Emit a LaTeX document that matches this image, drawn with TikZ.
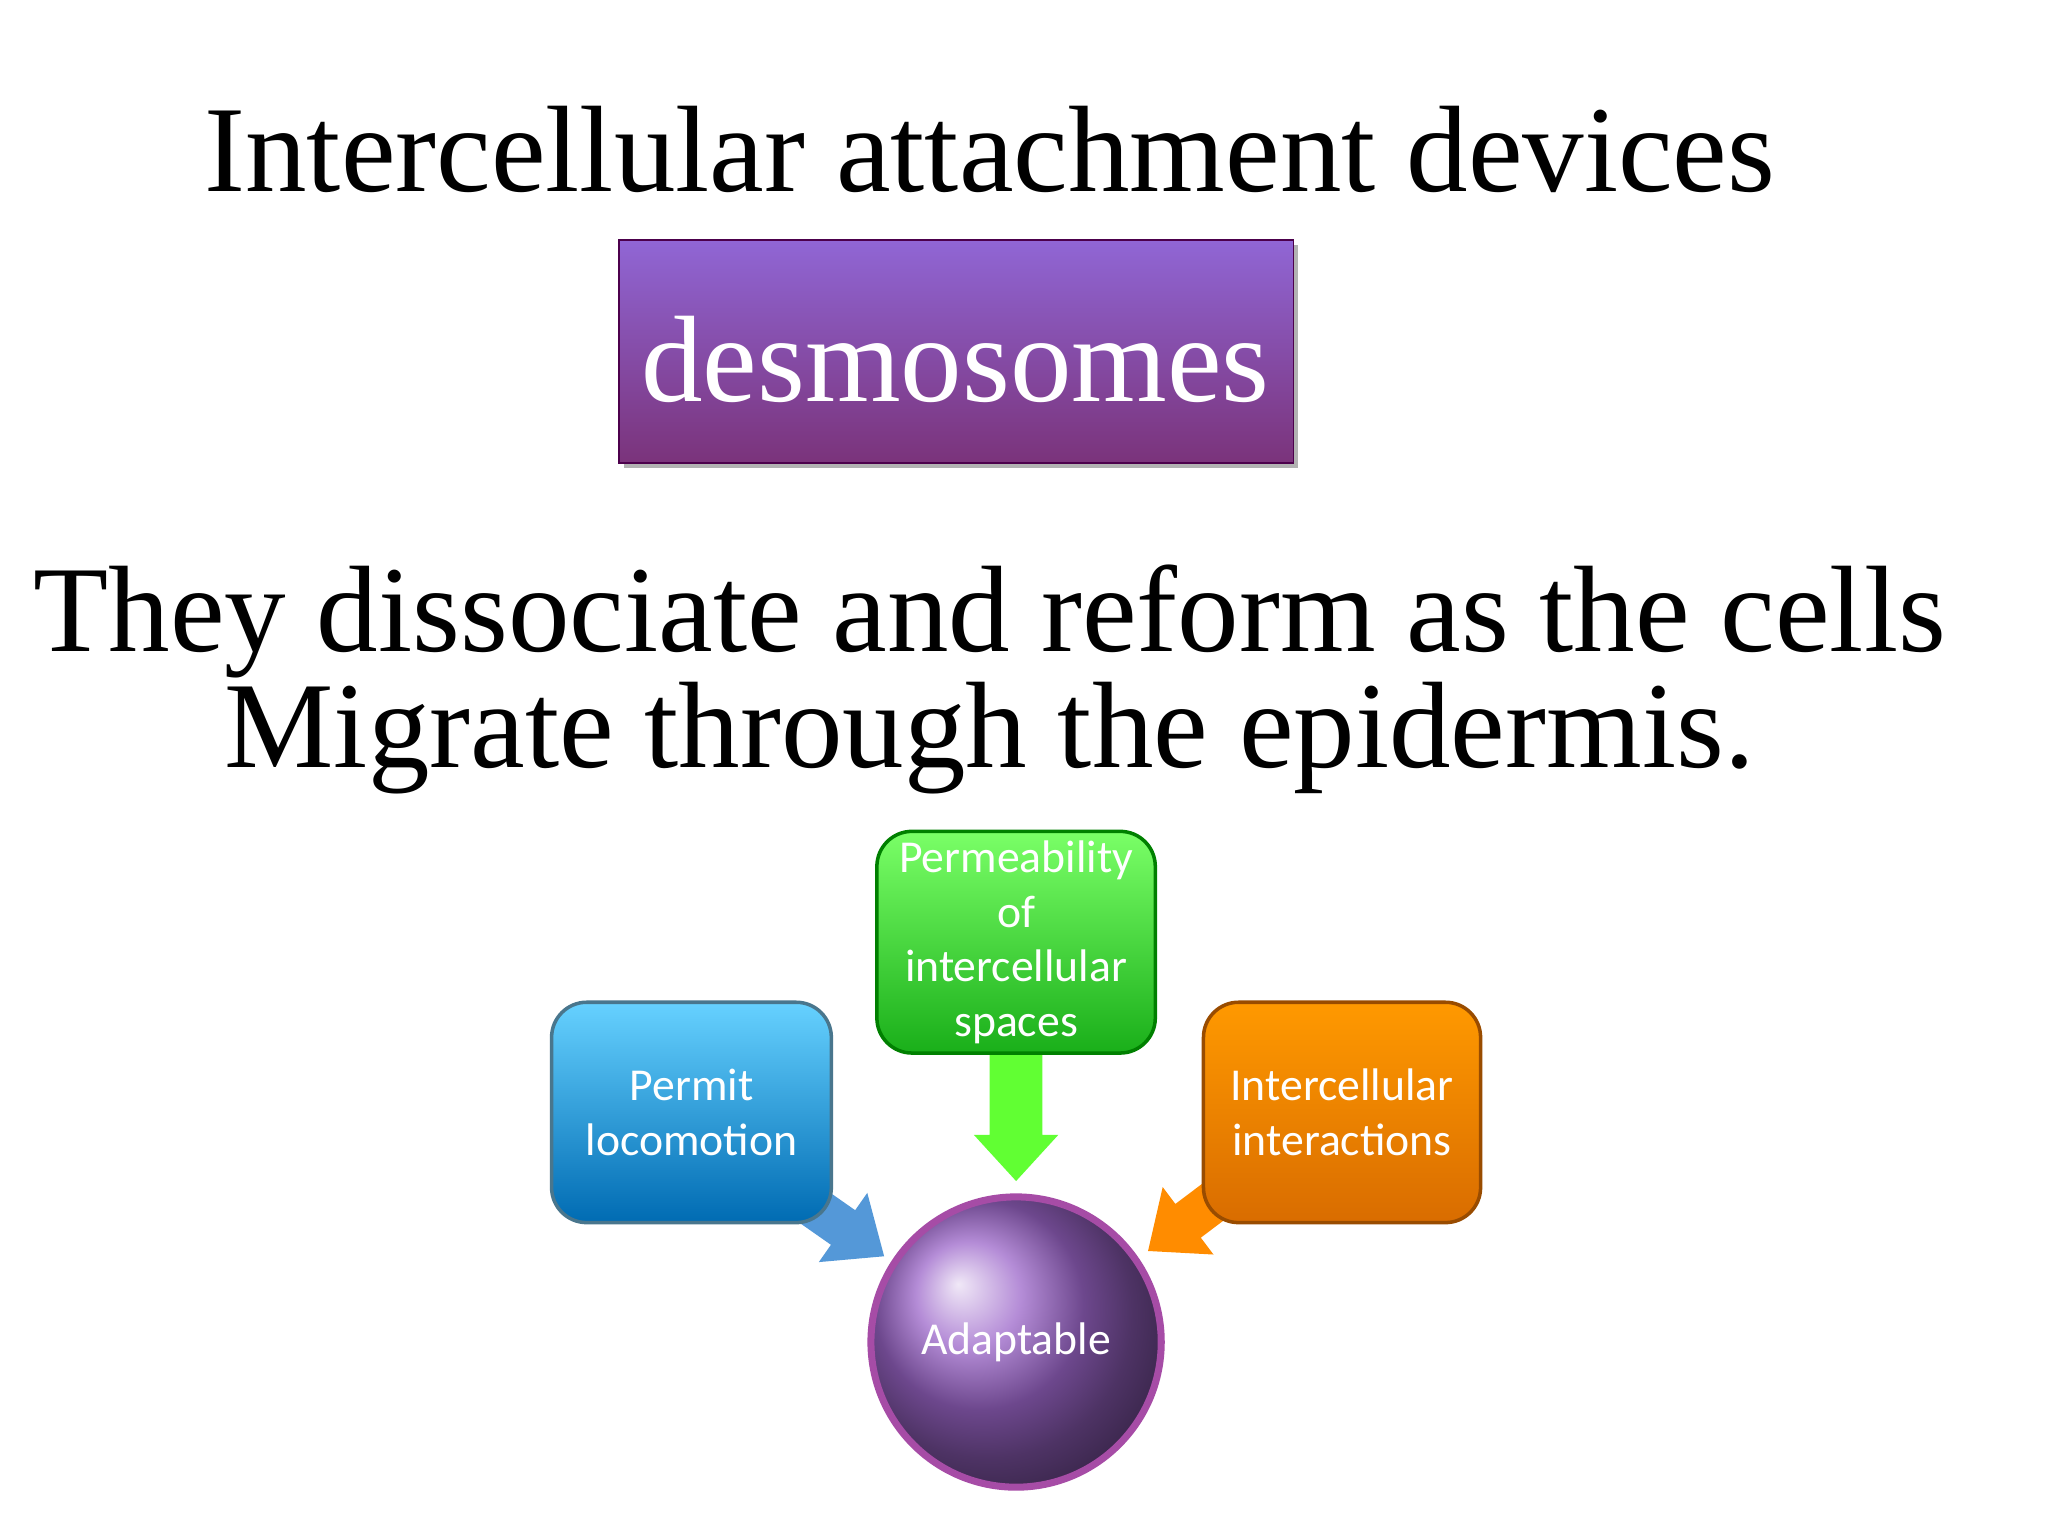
\documentclass[tikz,border=0pt]{standalone}
\usepackage{fontspec}
\setmainfont{Liberation Serif}
\newfontfamily\carl{Carlito}
\begin{document}
\begin{tikzpicture}[x=0.0132cm,y=-0.0132cm,
  box/.style={rounded corners=10pt,draw=#1,line width=1pt,inner sep=0pt,text=white,font=\carl\fontsize{13}{15.5}\selectfont,align=center}]
\useasboundingbox (0,0) rectangle (1552,1164);
\fill[white] (0,0) rectangle (1552,1164);
\node (title) at (750,113) {\fontsize{35}{40}\selectfont Intercellular attachment devices};
\fill[black!30] (473,186) rectangle (984,355);
\shade[top color=violet!55!blue!60!white, bottom color=violet!70!black!80, draw=violet!60!black] (469,182) rectangle (980,351);
\node[text=white] (des) at (724,272) {\fontsize{35}{40}\selectfont desmosomes};
\node[align=center] (txt) at (750,515) {\fontsize{35}{42}\selectfont They dissociate and reform as the cells\\ \fontsize{35}{42}\selectfont Migrate through the epidermis.};
% arrows
\fill[green!70!lime!80!white] (750,790) -- (790,790) -- (790,860) -- (802,860) -- (770,895) -- (738,860) -- (750,860) -- cycle;
\begin{scope}[shift={(670,952)},rotate=-35]
\fill[cyan!60!blue!70!white] (-90,-16) -- (-38,-16) -- (-38,-32) -- (0,0) -- (-38,32) -- (-38,16) -- (-90,16) -- cycle;
\end{scope}
\begin{scope}[shift={(870,948)},rotate=-143]
\fill[orange!90!yellow] (-90,-16) -- (-38,-16) -- (-38,-32) -- (0,0) -- (-38,32) -- (-38,16) -- (-90,16) -- cycle;
\end{scope}
% boxes
\node[box=green!50!black,shading=axis,top color=green!55!white!90!lime,bottom color=green!65!black!90,minimum width=211*0.0132cm,minimum height=168*0.0132cm] (g) at (770,714) {Permeability\\of\\intercellular\\spaces};
\node[box=cyan!50!black,shading=axis,top color=cyan!70!blue!60!white,bottom color=cyan!60!blue!70!black,minimum width=212*0.0132cm,minimum height=167*0.0132cm] (b) at (524,843) {Permit\\locomotion};
\node[box=orange!60!black,shading=axis,top color=orange!80!yellow,bottom color=orange!85!black,minimum width=210*0.0132cm,minimum height=167*0.0132cm] (o) at (1017,843) {Intercellular\\interactions};
\shade[ball color=violet!70!blue!60, draw=violet!70!white, line width=2pt] (770,1017) circle[radius=110];
\node[text=white,font=\carl\fontsize{13}{15.5}\selectfont] (a) at (770,1017) {Adaptable};
\end{tikzpicture}
\end{document}
